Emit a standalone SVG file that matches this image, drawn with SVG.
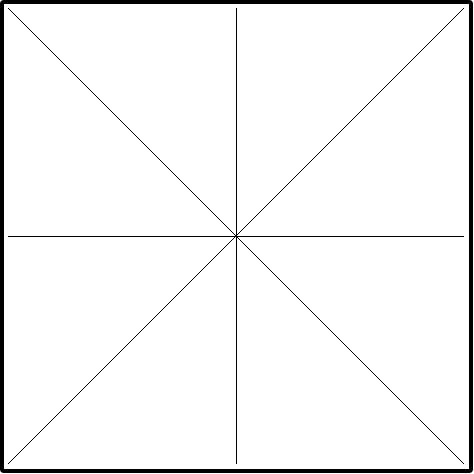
<svg xmlns="http://www.w3.org/2000/svg" width="474" height="474" viewBox="0 0 474 474">
<style>
.frame{fill:#fff;stroke:#000;stroke-width:4}
.ln{stroke:#000;stroke-width:1;fill:none}
</style>
<g id="frame"><rect class="frame" x="2" y="2" width="469" height="469" rx="2"/></g>
<g id="connectors">
<line class="ln" x1="236.5" y1="8" x2="236.5" y2="464"/>
<line class="ln" x1="8" y1="236.5" x2="464" y2="236.5"/>
<line class="ln" x1="8" y1="8" x2="464" y2="464"/>
<line class="ln" x1="464" y1="8" x2="8" y2="464"/>
</g>
</svg>
